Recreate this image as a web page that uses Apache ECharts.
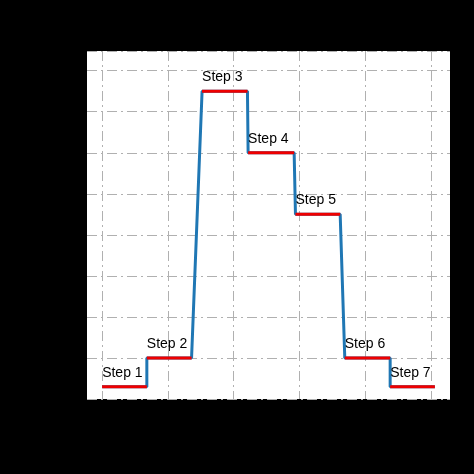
<!DOCTYPE html>
<html>
<head>
<meta charset="utf-8">
<script src="https://cdn.jsdelivr.net/npm/echarts@6/dist/echarts.min.js"></script>
<style>html,body{margin:0;background:#000}#main{width:474px;height:474px}</style>
</head>
<body>
<div id="main"></div>
<script>
// step profile
var stepNames = ['Step 1', 'Step 2', 'Step 3', 'Step 4', 'Step 5', 'Step 6', 'Step 7'];
var stepStart = [0, 0.68, 1.52, 2.22, 2.94, 3.69, 4.38];
var stepEnd = [0.68, 1.36, 2.21, 2.92, 3.62, 4.38, 5.06];
var stepLevel = [0.3, 1.0, 7.5, 6.0, 4.5, 1.0, 0.3];
var xTicks = [0, 1, 2, 3, 4, 5];

var profile = [];
for (var i = 0; i < stepNames.length; i++) {
  profile.push([stepStart[i], stepLevel[i]]);
  profile.push([stepEnd[i], stepLevel[i]]);
}

var gridLine = { show: true, lineStyle: { color: '#b0b0b0', width: 1, type: [10, 4, 2, 4] } };

var series = [{
  type: 'line',
  data: profile,
  showSymbol: false,
  lineStyle: { color: '#1f77b4', width: 3 },
  z: 2
}];
stepNames.forEach(function (name, i) {
  series.push({
    type: 'line',
    data: [[stepStart[i], stepLevel[i]], [stepEnd[i], stepLevel[i]]],
    symbol: 'none',
    lineStyle: { color: '#ee0000', width: 3 },
    z: 3,
    markPoint: {
      symbol: 'circle', symbolSize: 0,
      data: [{ coord: [stepStart[i], stepLevel[i]] }],
      label: {
        show: true, formatter: name, position: 'top', align: 'left',
        offset: [0, -2], color: '#000', fontSize: 14, fontFamily: 'Liberation Sans'
      }
    }
  });
});

var chart = echarts.init(document.getElementById('main'));
chart.setOption({
  backgroundColor: '#000',
  animation: false,
  grid: { left: 87, right: 24, top: 51, bottom: 75, backgroundColor: '#fff', show: true, borderWidth: 0 },
  xAxis: {
    type: 'value', min: -0.23, max: 5.29,
    axisLine: { show: false },
    axisTick: { show: false, customValues: xTicks },
    axisLabel: { customValues: xTicks, color: '#000' },
    splitLine: gridLine
  },
  yAxis: {
    type: 'value', min: 0, max: 8.48, interval: 1,
    axisLine: { show: false }, axisTick: { show: false },
    axisLabel: { color: '#000' },
    splitLine: gridLine
  },
  series: series
});
</script>
</body>
</html>
